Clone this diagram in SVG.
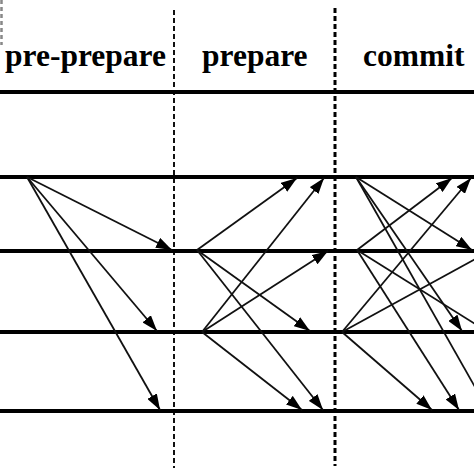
<svg xmlns="http://www.w3.org/2000/svg" width="474" height="474" viewBox="0 0 474 474">
<style>
.lbl{font-family:"Liberation Serif","Times New Roman",serif;font-weight:bold;font-size:31.5px;fill:#000}
.h{stroke:#000;stroke-width:4}
.d1{stroke:#111;stroke-width:2;stroke-dasharray:5 3}
.d2{stroke:#000;stroke-width:3;stroke-dasharray:5 3}
.m{stroke:#111;stroke-width:1.8;fill:none;marker-end:url(#ah)}
.n{stroke:#111;stroke-width:1.8;fill:none}
</style>
<defs>
<marker id="ah" viewBox="0 0 16 11" refX="16" refY="5.5" markerWidth="16" markerHeight="11" markerUnits="userSpaceOnUse" orient="auto">
<path d="M0,0 L16,5.5 L0,11 z" fill="#000"/>
</marker>
</defs>
<rect width="474" height="474" fill="#fff"/>
<g id="phases">
<line x1="1.5" y1="0" x2="1.5" y2="45" stroke="#888" stroke-width="2.5" stroke-dasharray="4 3"/>
<line class="d1" x1="174" y1="10" x2="174" y2="468"/>
<line class="d2" x1="335" y1="8" x2="335" y2="466"/>
</g>
<g id="labels">
<text class="lbl" x="5" y="66">pre-prepare</text>
<text class="lbl" x="202" y="66">prepare</text>
<text class="lbl" x="363" y="66">commit</text>
</g>
<g id="replicas">
<line class="h" x1="0" y1="92" x2="474" y2="92"/>
<line class="h" x1="0" y1="177" x2="474" y2="177"/>
<line class="h" x1="0" y1="251" x2="474" y2="251"/>
<line class="h" x1="0" y1="332" x2="474" y2="332"/>
<line class="h" x1="0" y1="411" x2="474" y2="411"/>
</g>
<g id="connectors">
<!-- pre-prepare -->
<line class="m" x1="27" y1="177" x2="172" y2="250"/>
<line class="m" x1="27" y1="177" x2="157" y2="331"/>
<line class="m" x1="27" y1="177" x2="160" y2="410"/>
<!-- prepare -->
<line class="m" x1="197" y1="250" x2="297" y2="178"/>
<line class="m" x1="197" y1="250" x2="310" y2="331"/>
<line class="m" x1="197" y1="250" x2="323" y2="410"/>
<line class="m" x1="202" y1="332" x2="324" y2="178"/>
<line class="m" x1="202" y1="332" x2="328" y2="251"/>
<line class="m" x1="202" y1="332" x2="302" y2="410"/>
<!-- commit -->
<line class="m" x1="356" y1="177" x2="472" y2="250"/>
<line class="m" x1="356" y1="177" x2="462" y2="331"/>
<line class="n" x1="356" y1="177" x2="488" y2="410"/>
<line class="m" x1="357" y1="250" x2="452" y2="178"/>
<line class="n" x1="357" y1="250" x2="488" y2="332"/>
<line class="m" x1="357" y1="250" x2="459" y2="410"/>
<line class="m" x1="342" y1="332" x2="471" y2="178"/>
<line class="n" x1="342" y1="332" x2="490" y2="251"/>
<line class="m" x1="342" y1="332" x2="432" y2="410"/>
</g>
</svg>
